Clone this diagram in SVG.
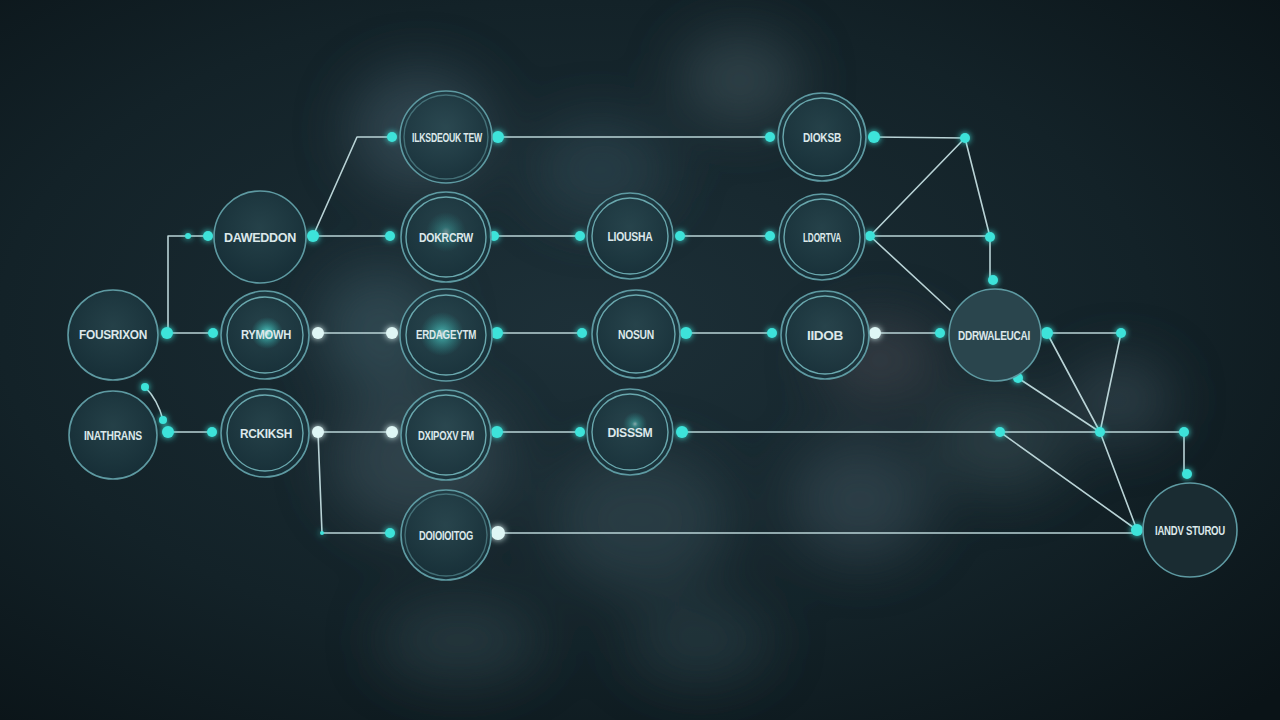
<svg xmlns="http://www.w3.org/2000/svg" width="1280" height="720" viewBox="0 0 1280 720">
<defs>
<radialGradient id="bg" cx="0.45" cy="0.45" r="0.75">
<stop offset="0" stop-color="#1d3038"/>
<stop offset="0.6" stop-color="#132228"/>
<stop offset="1" stop-color="#0a1317"/>
</radialGradient>
<radialGradient id="nodeFill" cx="0.5" cy="0.4" r="0.6">
<stop offset="0" stop-color="#2a4a52" stop-opacity="0.75"/>
<stop offset="1" stop-color="#17313a" stop-opacity="0.8"/>
</radialGradient>
<radialGradient id="spark" cx="0.5" cy="0.5" r="0.5">
<stop offset="0" stop-color="#dffcfa" stop-opacity="0.95"/>
<stop offset="0.25" stop-color="#4fe6dd" stop-opacity="0.6"/>
<stop offset="1" stop-color="#2ab8b2" stop-opacity="0"/>
</radialGradient>
<filter id="blurBig" x="-50%" y="-50%" width="200%" height="200%"><feGaussianBlur stdDeviation="28"/></filter>
<filter id="glow" x="-200%" y="-200%" width="500%" height="500%"><feGaussianBlur stdDeviation="3" result="b"/><feMerge><feMergeNode in="b"/><feMergeNode in="SourceGraphic"/></feMerge></filter>
<style>
.ring{fill:url(#nodeFill);stroke:#5e9aa2;stroke-width:1.6}
.inner{fill:none;stroke:#6aa8ae;stroke-width:1.4}
.lbl{font-family:"Liberation Sans","DejaVu Sans",sans-serif;font-size:12px;font-weight:bold;fill:#dce8ea;text-anchor:middle;letter-spacing:-0.3px}
.ln{fill:none;stroke:#b9d3d6;stroke-width:1.6;stroke-linecap:round;stroke-linejoin:round}
.dot{fill:#3de3da}
.wdot{fill:#dff6f5}
</style>
</defs>
<rect width="1280" height="720" fill="url(#bg)"/>
<g id="blobs" filter="url(#blurBig)" opacity="0.65">
<ellipse cx="420" cy="130" rx="70" ry="60" fill="#3d5560"/>
<ellipse cx="740" cy="80" rx="60" ry="45" fill="#3d5158"/>
<ellipse cx="600" cy="170" rx="70" ry="50" fill="#2f4751"/>
<ellipse cx="420" cy="460" rx="90" ry="70" fill="#3a5058"/>
<ellipse cx="640" cy="520" rx="90" ry="70" fill="#31464f"/>
<ellipse cx="860" cy="500" rx="70" ry="60" fill="#374b54"/>
<ellipse cx="460" cy="640" rx="80" ry="40" fill="#2f424a"/>
<ellipse cx="700" cy="640" rx="70" ry="40" fill="#2c3f47"/>
<ellipse cx="380" cy="330" rx="60" ry="60" fill="#3a5660"/>
<ellipse cx="1000" cy="440" rx="70" ry="50" fill="#354950"/>
<ellipse cx="1120" cy="400" rx="50" ry="40" fill="#3a4e56"/>
<ellipse cx="880" cy="360" rx="60" ry="40" fill="#44474f"/>
</g>
<g id="connectors">
<path class="ln" d="M168 236 H208 M168 236 V333 M313 236 L357 137 H392 M498 137 H770 M874 137 L965 138 L990 237 V280 M965 138 L870 236 M870 236 H990 M870 236 L950 310"/>
<path class="ln" d="M313 236 H390 M494 236 H580 M680 236 H770"/>
<path class="ln" d="M167 333 H213 M318 333 H392 M497 333 H582 M686 333 H772 M875 333 H940 M1047 333 H1121 L1100 432 M1047 333 L1100 432 M1018 378 L1100 432"/>
<path class="ln" d="M168 432 H212 M318 432 H392 M497 432 H580 M682 432 H1184 V474 M1000 432 L1137 530 M1100 432 L1137 530 M318 432 L322 533 H390 M498 533 H1137"/>
<path class="ln" d="M145 387 Q158 400 163 420" stroke-width="1.2"/>
<g filter="url(#glow)">
<circle class="dot" cx="188" cy="236" r="3"/><circle class="dot" cx="208" cy="236" r="5"/>
<circle class="dot" cx="313" cy="236" r="6"/><circle class="dot" cx="390" cy="236" r="5"/>
<circle class="dot" cx="494" cy="236" r="5"/><circle class="dot" cx="580" cy="236" r="5"/>
<circle class="dot" cx="680" cy="236" r="5"/><circle class="dot" cx="770" cy="236" r="5"/>
<circle class="dot" cx="870" cy="236" r="5"/><circle class="dot" cx="990" cy="237" r="5"/>
<circle class="dot" cx="993" cy="280" r="5"/>
<circle class="dot" cx="392" cy="137" r="5"/><circle class="dot" cx="498" cy="137" r="6"/>
<circle class="dot" cx="770" cy="137" r="5"/><circle class="dot" cx="874" cy="137" r="6"/>
<circle class="dot" cx="965" cy="138" r="5"/>
<circle class="dot" cx="167" cy="333" r="6"/><circle class="dot" cx="213" cy="333" r="5"/>
<circle class="wdot" cx="318" cy="333" r="6"/><circle class="wdot" cx="392" cy="333" r="6"/>
<circle class="dot" cx="497" cy="333" r="6"/><circle class="dot" cx="582" cy="333" r="5"/>
<circle class="dot" cx="686" cy="333" r="6"/><circle class="dot" cx="772" cy="333" r="5"/>
<circle class="wdot" cx="875" cy="333" r="6"/><circle class="dot" cx="940" cy="333" r="5"/>
<circle class="dot" cx="1047" cy="333" r="6"/><circle class="dot" cx="1121" cy="333" r="5"/>
<circle class="dot" cx="1018" cy="378" r="5"/>
<circle class="dot" cx="145" cy="387" r="4"/><circle class="dot" cx="163" cy="420" r="4"/>
<circle class="dot" cx="168" cy="432" r="6"/><circle class="dot" cx="212" cy="432" r="5"/>
<circle class="wdot" cx="318" cy="432" r="6"/><circle class="wdot" cx="392" cy="432" r="6"/>
<circle class="dot" cx="497" cy="432" r="6"/><circle class="dot" cx="580" cy="432" r="5"/>
<circle class="dot" cx="682" cy="432" r="6"/><circle class="dot" cx="1000" cy="432" r="5"/>
<circle class="dot" cx="1100" cy="432" r="5"/><circle class="dot" cx="1184" cy="432" r="5"/>
<circle class="dot" cx="1187" cy="474" r="5"/>
<circle class="dot" cx="322" cy="533" r="2"/><circle class="dot" cx="390" cy="533" r="5"/>
<circle class="wdot" cx="498" cy="533" r="7"/><circle class="dot" cx="1137" cy="530" r="6"/>
</g>
</g>
<g id="n1"><circle class="ring" cx="113" cy="335" r="45"/><text class="lbl" x="113" y="339" textLength="68" lengthAdjust="spacingAndGlyphs">FOUSRIXON</text></g>
<g id="n2"><circle class="ring" cx="113" cy="435" r="44"/><text class="lbl" x="113" y="440" textLength="58" lengthAdjust="spacingAndGlyphs">INATHRANS</text></g>
<g id="n3"><circle class="ring" cx="260" cy="237" r="46"/><text class="lbl" x="260" y="242" textLength="72" lengthAdjust="spacingAndGlyphs">DAWEDDON</text></g>
<g id="n4"><circle class="ring" cx="265" cy="335" r="44"/><circle class="inner" cx="265" cy="335" r="38"/><circle cx="267" cy="333" r="16" fill="url(#spark)"/><text class="lbl" x="266" y="339" textLength="50" lengthAdjust="spacingAndGlyphs">RYMOWH</text></g>
<g id="n5"><circle class="ring" cx="265" cy="433" r="44"/><circle class="inner" cx="265" cy="433" r="38"/><text class="lbl" x="266" y="438" textLength="52" lengthAdjust="spacingAndGlyphs">RCKIKSH</text></g>
<g id="n6"><circle class="ring" cx="446" cy="137" r="46"/><circle class="inner" cx="446" cy="137" r="42" opacity="0.5"/><text class="lbl" x="447" y="142" textLength="70" lengthAdjust="spacingAndGlyphs">ILKSDEOUK TEW</text></g>
<g id="n7"><circle class="ring" cx="446" cy="237" r="45"/><circle class="inner" cx="446" cy="237" r="40"/><circle cx="446" cy="232" r="20" fill="url(#spark)" opacity="0.45"/><text class="lbl" x="446" y="242" textLength="54" lengthAdjust="spacingAndGlyphs">DOKRCRW</text></g>
<g id="n8"><circle class="ring" cx="446" cy="335" r="46"/><circle class="inner" cx="446" cy="335" r="40"/><circle cx="442" cy="334" r="22" fill="url(#spark)" opacity="0.8"/><text class="lbl" x="446" y="339" textLength="60" lengthAdjust="spacingAndGlyphs">ERDAGEYTM</text></g>
<g id="n9"><circle class="ring" cx="446" cy="435" r="45"/><circle class="inner" cx="446" cy="435" r="40"/><text class="lbl" x="446" y="440" textLength="56" lengthAdjust="spacingAndGlyphs">DXIPOXV FM</text></g>
<g id="n10"><circle class="ring" cx="446" cy="535" r="45"/><circle class="inner" cx="446" cy="535" r="41" opacity="0.5"/><text class="lbl" x="446" y="540" textLength="54" lengthAdjust="spacingAndGlyphs">DOIOIOITOG</text></g>
<g id="n11"><circle class="ring" cx="630" cy="236" r="43"/><circle class="inner" cx="630" cy="236" r="38"/><text class="lbl" x="630" y="241" textLength="45" lengthAdjust="spacingAndGlyphs">LIOUSHA</text></g>
<g id="n12"><circle class="ring" cx="636" cy="334" r="44"/><circle class="inner" cx="636" cy="334" r="39"/><text class="lbl" x="636" y="339" textLength="36" lengthAdjust="spacingAndGlyphs">NOSUN</text></g>
<g id="n13"><circle class="ring" cx="630" cy="432" r="43"/><circle class="inner" cx="630" cy="432" r="38"/><circle cx="635" cy="424" r="12" fill="url(#spark)" opacity="0.6"/><text class="lbl" x="630" y="437" textLength="45" lengthAdjust="spacingAndGlyphs">DISSSM</text></g>
<g id="n14"><circle class="ring" cx="822" cy="137" r="44"/><circle class="inner" cx="822" cy="137" r="39"/><text class="lbl" x="822" y="142" textLength="38" lengthAdjust="spacingAndGlyphs">DIOKSB</text></g>
<g id="n15"><circle class="ring" cx="822" cy="237" r="43"/><circle class="inner" cx="822" cy="237" r="38"/><text class="lbl" x="822" y="242" textLength="38" lengthAdjust="spacingAndGlyphs">LDORTVA</text></g>
<g id="n16"><circle class="ring" cx="825" cy="335" r="44"/><circle class="inner" cx="825" cy="335" r="39"/><text class="lbl" x="825" y="340" textLength="36" lengthAdjust="spacingAndGlyphs">IIDOB</text></g>
<g id="n17"><circle class="ring" cx="995" cy="335" r="46" style="fill:#2a454d"/><text class="lbl" x="994" y="340" textLength="72" lengthAdjust="spacingAndGlyphs">DDRWALEUCAI</text></g>
<g id="n18"><circle class="ring" cx="1190" cy="530" r="47" style="fill:#1a2c32"/><text class="lbl" x="1190" y="535" textLength="70" lengthAdjust="spacingAndGlyphs">IANDV STUROU</text></g>
</svg>
